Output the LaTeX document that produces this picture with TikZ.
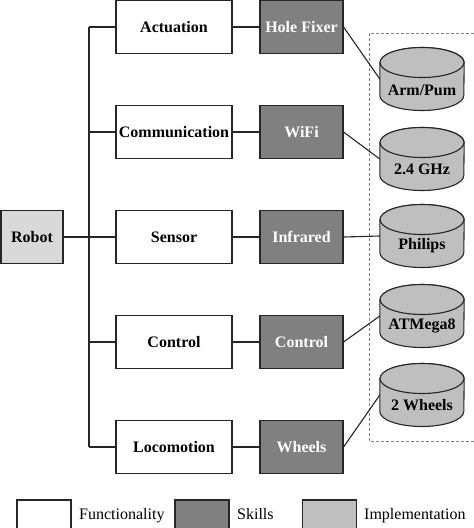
\documentclass[tikz,border=0pt]{standalone}
\usepackage{fontspec}
\setmainfont{Liberation Serif}
\definecolor{robotgray}{RGB}{217,217,217}
\definecolor{skillgray}{RGB}{128,128,128}
\definecolor{implgray}{RGB}{191,191,191}
\definecolor{dashgray}{RGB}{130,130,130}
\tikzset{
  base/.style={draw=black!85, line width=1.1pt, font=\fontsize{16}{18}\selectfont\bfseries, inner sep=0pt},
  funcbox/.style={base, fill=white, minimum width=116pt, minimum height=53pt},
  skillbox/.style={base, fill=skillgray, text=white, minimum width=83pt, minimum height=53pt},
  robotbox/.style={base, fill=robotgray, minimum width=62pt, minimum height=53pt},
  cylbox/.style={inner sep=0pt, minimum width=84pt, minimum height=63pt},
  cylshape/.style={draw=black!85, line width=1.1pt, fill=implgray},
  cyltext/.style={font=\fontsize{16}{18}\selectfont\bfseries, inner sep=0pt},
  link/.style={draw=black!85, line width=1.1pt},
  legbox/.style={draw=black!85, line width=1.1pt, minimum width=54pt, minimum height=30pt, inner sep=0pt},
  legtext/.style={font=\fontsize{16}{18}\selectfont, anchor=base west, inner sep=0pt},
}
\begin{document}
\begin{tikzpicture}[x=1pt,y=-1pt]
\useasboundingbox (0,0) rectangle (474,528);
% robot
\node[robotbox] (robot) at (32,237) {Robot};
% trunk
\coordinate (ttop) at (89,27);
\coordinate (tbot) at (89,447);
\coordinate (tmid) at (89,237);
% functionality
\node[funcbox] (f1) at (174,27) {Actuation};
\node[funcbox] (f2) at (174,132) {Communication};
\node[funcbox] (f3) at (174,237) {Sensor};
\node[funcbox] (f4) at (174,342) {Control};
\node[funcbox] (f5) at (174,447) {Locomotion};
% skills
\node[skillbox] (s1) at (301.5,27) {Hole Fixer};
\node[skillbox] (s2) at (301.5,132) {WiFi};
\node[skillbox] (s3) at (301.5,237) {Infrared};
\node[skillbox] (s4) at (301.5,342) {Control};
\node[skillbox] (s5) at (301.5,447) {Wheels};
% implementation (cylinders)
\node[cylbox] (c1) at (422,79) {};
\node[cylbox] (c2) at (422,159) {};
\node[cylbox] (c3) at (422,236) {};
\node[cylbox] (c4) at (422,316) {};
\node[cylbox] (c5) at (422,395) {};
\foreach \i in {1,...,5} {
  \path[cylshape] ([yshift=16.5pt]c\i.west) -- ([yshift=-16.5pt]c\i.west)
     arc[start angle=180, end angle=360, x radius=42pt, y radius=15pt]
     -- ([yshift=16.5pt]c\i.east)
     arc[start angle=0, end angle=180, x radius=42pt, y radius=15pt] -- cycle;
  \draw[cylshape] ([yshift=16.5pt]c\i.center) ellipse[x radius=42pt, y radius=15pt];
}
\node[cyltext] (ct1) at ([yshift=-11pt]c1.center) {Arm/Pum};
\node[cyltext] (ct2) at ([yshift=-10pt]c2.center) {2.4 GHz};
\node[cyltext] (ct3) at ([yshift=-10pt]c3.center) {Philips};
\node[cyltext] (ct4) at ([yshift=-10pt]c4.center) {ATMega8};
\node[cyltext] (ct5) at ([yshift=-10pt]c5.center) {2 Wheels};
% dashed frame
\coordinate (dtr) at (474,33);
\coordinate (dtl) at (369,33);
\coordinate (dbl) at (369,441);
\coordinate (dbr) at (474,441);
\draw[dashgray, line width=0.9pt, dash pattern=on 3pt off 2pt] (dtr) -- (dtl) -- (dbl) -- (dbr);
% connectors
\draw[link] (robot.east) -- (tmid);
\draw[link] (ttop) -- (tbot);
\foreach \i in {1,...,5} {
  \draw[link] (f\i.west -| ttop) -- (f\i.west);
  \draw[link] (f\i.east) -- (s\i.west);
  \draw[link] (s\i.east) -- (c\i.west);
}
% legend
\node[legbox, fill=white] (l1) at (44,515) {};
\node[legtext] (t1) at (79,519) {Functionality};
\node[legbox, fill=skillgray] (l2) at (202,515) {};
\node[legtext] (t2) at (237,519) {Skills};
\node[legbox, fill=implgray] (l3) at (329.5,515) {};
\node[legtext] (t3) at (364,519) {Implementation};
\end{tikzpicture}
\end{document}
